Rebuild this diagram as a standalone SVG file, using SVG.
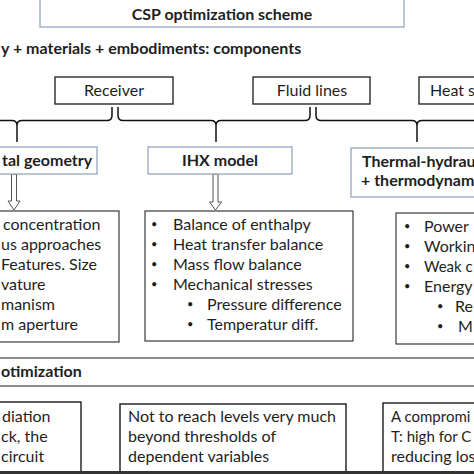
<svg xmlns="http://www.w3.org/2000/svg" width="474" height="474" viewBox="0 0 474 474">
<style>
.t{font-family:Lato,"Liberation Sans",sans-serif;font-size:16px;fill:#1e1e1e}
.b{font-weight:bold}
.d{font-size:11px}
.s{font-size:15px}
.blue{fill:#fff;stroke:#8e9fbb;stroke-width:1.2}
.comp{fill:#fff;stroke:#2a2a2a;stroke-width:1.4}
.list{fill:#fff;stroke:#3a3a3a;stroke-width:1.2}
.bot{fill:#fff;stroke:#1a1a1a;stroke-width:1.4}
.arrow{fill:#fff;stroke:#555;stroke-width:1}
.rule{stroke:#666;stroke-width:1.5}
</style>
<rect width="474" height="474" fill="#fff"/>

<g id="title">
<rect class="blue" x="40" y="-5" width="364" height="32"/>
<text class="t b" x="222" y="20" text-anchor="middle">CSP optimization scheme</text>
</g>

<g id="heading1">
<text class="t b" x="1" y="54">y + materials + embodiments: components</text>
</g>

<g id="receiver">
<rect class="comp" x="55" y="77" width="118" height="27"/>
<text class="t" x="114" y="96" text-anchor="middle">Receiver</text>
</g>
<g id="fluid-lines">
<rect class="comp" x="253" y="77" width="117" height="27"/>
<text class="t" x="312" y="96" text-anchor="middle">Fluid lines</text>
</g>
<g id="heat-storage">
<rect class="comp" x="419" y="77" width="70" height="27"/>
<text class="t" x="430" y="96">Heat s</text>
</g>

<g id="connectors" fill="none" stroke="#111" stroke-width="1.5">
<path d="M0,120.5 H12 Q17,120.5 17,125.5 V142 M17,125.5 Q17,120.5 22,120.5 H107 Q112,120.5 112,115.5 V107 M118,107 V115.5 Q118,120.5 123,120.5 H211 Q216,120.5 216,125.5 V142 M216,125.5 Q216,120.5 221,120.5 H305 Q310,120.5 310,115.5 V107 M316,107 V115.5 Q316,120.5 321,120.5 H412 Q417,120.5 417,125.5 V142 M417,125.5 Q417,120.5 422,120.5 H474"/>
<polygon class="arrow" points="11.5,174 16.5,174 16.5,201 20,201 14,210 8,201 11.5,201"/>
<polygon class="arrow" points="213,174 218,174 218,202 221.5,202 215.5,210 209.5,202 213,202"/>
</g>

<g id="geometry">
<rect class="blue" x="-5" y="147" width="102" height="27"/>
<text class="t b" x="2" y="166">tal geometry</text>
</g>
<g id="ihx-model">
<rect class="blue" x="148" y="147" width="144" height="27"/>
<text class="t b" x="220" y="166" text-anchor="middle">IHX model</text>
</g>
<g id="thermal-hydraulic">
<rect class="blue" x="351" y="148" width="130" height="49"/>
<text class="t b" x="362" y="167">Thermal-hydrau</text>
<text class="t b" x="361" y="186">+ thermodynam</text>
</g>

<g id="geometry-list">
<rect class="list" x="-5" y="211" width="124" height="131"/>
<text class="t" x="3" y="230">concentration</text>
<text class="t" x="1" y="250">us approaches</text>
<text class="t" x="1" y="270">Features. Size</text>
<text class="t" x="1" y="290">vature</text>
<text class="t" x="1" y="310">manism</text>
<text class="t" x="1" y="330">m aperture</text>
</g>

<g id="ihx-list">
<rect class="list" x="145" y="211" width="208" height="130"/>
<text class="t d" x="151" y="228">•</text>
<text class="t" x="173" y="230">Balance of enthalpy</text>
<text class="t d" x="151" y="248">•</text>
<text class="t" x="173" y="250">Heat transfer balance</text>
<text class="t d" x="151" y="268">•</text>
<text class="t" x="173" y="270">Mass flow balance</text>
<text class="t d" x="151" y="288">•</text>
<text class="t" x="173" y="290">Mechanical stresses</text>
<text class="t d" x="187" y="308">•</text>
<text class="t" x="207" y="310">Pressure difference</text>
<text class="t d" x="187" y="328">•</text>
<text class="t" x="207" y="330">Temperatur diff.</text>
</g>

<g id="thermal-list">
<rect class="list" x="396" y="213" width="90" height="131"/>
<text class="t d" x="404" y="230">•</text>
<text class="t" x="424" y="232">Power</text>
<text class="t d" x="404" y="250">•</text>
<text class="t" x="424" y="252">Workin</text>
<text class="t d" x="404" y="270">•</text>
<text class="t s" x="424" y="272">Weak c</text>
<text class="t d" x="404" y="290">•</text>
<text class="t" x="424" y="292">Energy</text>
<text class="t d" x="437" y="310">•</text>
<text class="t" x="455" y="312">Re</text>
<text class="t d" x="437" y="330">•</text>
<text class="t" x="458" y="332">M</text>
</g>

<g id="heading2">
<line class="rule" x1="0" y1="358" x2="474" y2="358"/>
<line class="rule" x1="0" y1="386" x2="474" y2="386"/>
<text class="t b" x="1" y="377">otimization</text>
</g>

<g id="note-receiver">
<rect class="bot" x="-5" y="402" width="86" height="72"/>
<text class="t" x="2" y="422">diation</text>
<text class="t" x="1" y="442">ck, the</text>
<text class="t" x="1" y="462">circuit</text>
</g>
<g id="note-ihx">
<rect class="bot" x="120" y="404" width="226" height="70"/>
<text class="t" x="128" y="422">Not to reach levels very much</text>
<text class="t" x="128" y="442">beyond thresholds of</text>
<text class="t" x="128" y="462">dependent variables</text>
</g>
<g id="note-thermal">
<rect class="bot" x="383" y="403" width="100" height="71"/>
<text class="t s" x="391" y="422">A compromi</text>
<text class="t s" x="391" y="442">T: high for C</text>
<text class="t" x="391" y="462">reducing los</text>
</g>
<rect x="0" y="471" width="474" height="3" fill="#333"/>
</svg>
